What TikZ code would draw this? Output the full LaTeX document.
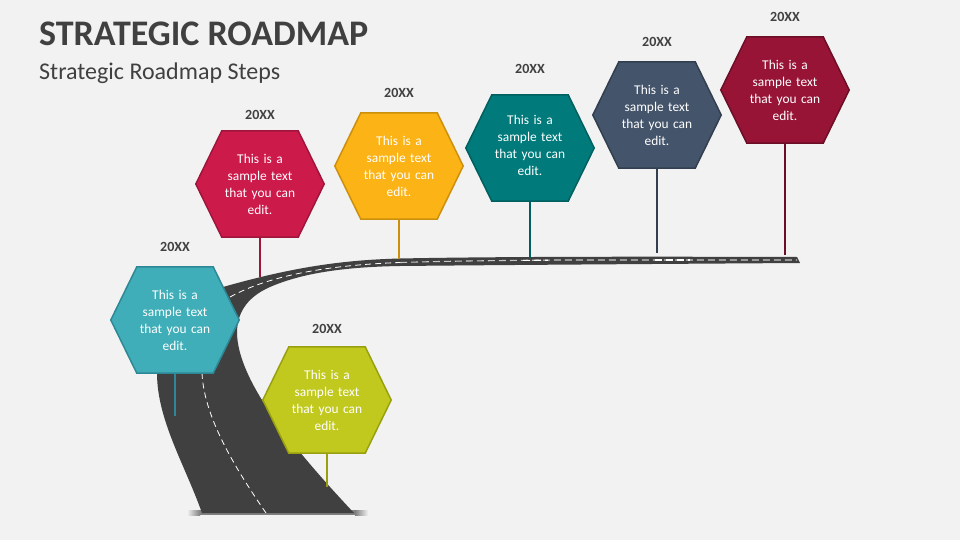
\documentclass[tikz,border=0pt]{standalone}
\usepackage{fontspec}
\setmainfont{Carlito}
\usetikzlibrary{calc}
\definecolor{bg}{HTML}{F2F2F2}
\definecolor{ink}{HTML}{404040}
\definecolor{road}{HTML}{404040}
\definecolor{tealF}{HTML}{3FAEB8}\definecolor{tealB}{HTML}{2E8896}
\definecolor{oliveF}{HTML}{C1C91F}\definecolor{oliveB}{HTML}{98A00F}
\definecolor{crimF}{HTML}{CC1A4A}\definecolor{crimB}{HTML}{A0153C}
\definecolor{ambF}{HTML}{FBB316}\definecolor{ambB}{HTML}{CC900C}
\definecolor{dtealF}{HTML}{007A7A}\definecolor{dtealB}{HTML}{006060}
\definecolor{slateF}{HTML}{44546A}\definecolor{slateB}{HTML}{333F50}
\definecolor{maroF}{HTML}{971436}\definecolor{maroB}{HTML}{6B0E26}
\tikzset{
  x=1pt,y=-1pt,
  hexbody/.style={minimum width=128pt,minimum height=106pt,inner sep=0pt,align=center,text=white,font=\fontsize{13.4}{17}\selectfont,text width=90pt},
  yearlabel/.style={font=\fontsize{14}{15}\bfseries\selectfont,text=ink,inner sep=0pt},
  stem/.style={line width=2pt},
  outlinehex/.style={line width=1.5pt,line join=miter},
}
\newcommand{\hexsign}[8]{% name, x, y, fill, border, stem end y, label y, text y
  \node[hexbody] (#1) at (#2,#3) {};
  \fill[#4,draw=#5,outlinehex] (#1.west) -- ($(#1.north west)+(26,0)$) -- ($(#1.north east)+(-26,0)$) -- (#1.east) -- ($(#1.south east)+(-26,0)$) -- ($(#1.south west)+(26,0)$) -- cycle;
  \node[hexbody] (#1t) at (#2,#8) {This is a\\sample text\\that you can\\edit.};
  \node[yearlabel] (#1y) at (#2,#7) {20XX};
  \coordinate (#1e) at (#2,#6);
  \draw[stem,#5] (#1.south) -- (#1e);
}
\begin{document}
\begin{tikzpicture}
\useasboundingbox (0,0) rectangle (960,540);
\fill[bg] (0,0) rectangle (960,540);
\node[anchor=west,inner sep=0pt,font=\fontsize{36}{40}\bfseries\selectfont,text=ink] (title) at (39,34) {STRATEGIC ROADMAP};
\node[anchor=west,inner sep=0pt,font=\fontsize{24}{26}\selectfont,text=ink] (subtitle) at (39,73.5) {Strategic Roadmap Steps};
% ground shadow
\shade[left color=bg,right color=black!50] (187,510) rectangle (200,515);
\fill[black!50] (200,510) rectangle (355,515);
\shade[left color=black!50,right color=bg] (355,510) rectangle (368,515);
% road
\fill[road] (202,513)
  .. controls (185,465) and (157,420) .. (157,373)
  .. controls (157,330) and (190,297) .. (223,287)
  .. controls (290,268) and (340,260) .. (400,258.5)
  .. controls (500,256.5) and (650,256.5) .. (797,257)
  -- (800,263)
  .. controls (650,264) and (500,265) .. (400,266)
  .. controls (340,267) and (300,274) .. (270,287)
  .. controls (245,298) and (237,315) .. (237,333)
  .. controls (238,380) and (290,445) .. (354,513)
  -- cycle;
\draw[white,line width=0.8pt,dash pattern=on 6pt off 4pt] (266,513)
  .. controls (240,475) and (204,420) .. (202,373)
  .. controls (200,335) and (215,306) .. (230,297)
  .. controls (270,275) and (330,265) .. (400,262.5);
\draw[white!70!road,line width=1.1pt,dash pattern=on 7pt off 4pt] (400,262.5) .. controls (450,261) and (500,260.5) .. (560,260) -- (797,260);
\draw[white,line width=1.1pt,dash pattern=on 7pt off 4pt] (523,260.4) -- (548,260.2);
\draw[white,line width=1.1pt,dash pattern=on 7pt off 4pt] (655,260) -- (690,260);
% signs
\hexsign{a}{175}{320}{tealF}{tealB}{416}{247}{320}
\hexsign{b}{327}{400}{oliveF}{oliveB}{487}{329}{400}
\hexsign{c}{260}{184}{crimF}{crimB}{277}{115}{184}
\hexsign{d}{399}{166}{ambF}{ambB}{259}{93}{166}
\hexsign{e}{530}{148}{dtealF}{dtealB}{258}{69}{145.5}
\hexsign{f}{657}{115}{slateF}{slateB}{253}{42}{115}
\hexsign{g}{785}{90}{maroF}{maroB}{255}{17}{90}
\end{tikzpicture}
\end{document}
